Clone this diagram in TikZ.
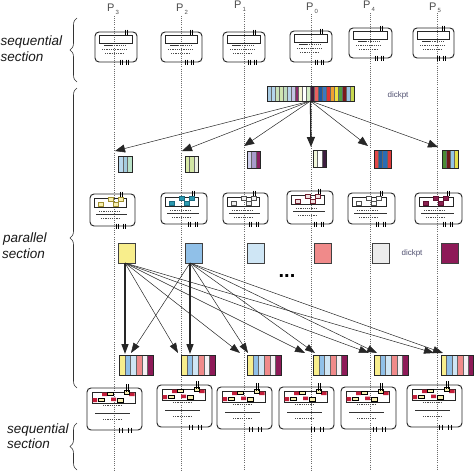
\documentclass[tikz,border=0pt]{standalone}
\usepackage{fontspec}
\setmainfont{Liberation Sans}
\usetikzlibrary{arrows.meta,decorations.pathreplacing,calc}

\definecolor{yel}{HTML}{F8EE8C}
\definecolor{blu}{HTML}{90C0E8}
\definecolor{lbl}{HTML}{CFE6F5}
\definecolor{pnk}{HTML}{F08A8A}
\definecolor{lgr}{HTML}{ECECEC}
\definecolor{pur}{HTML}{8E1A58}
\definecolor{redsqc}{HTML}{C41E3A}
\definecolor{yelsqc}{HTML}{F6EEB0}
\definecolor{notec}{HTML}{505070}

\tikzset{
  colline/.style={draw=gray!85!black, line width=0.55pt, dash pattern=on 0.8pt off 1.3pt},
  procbox/.style={draw=black!85, line width=0.95pt, rounded corners=4pt, anchor=north west, inner sep=0pt, outer sep=0pt},
  inrect/.style={draw=black!85, line width=0.8pt},
  dline/.style={draw=black!70, line width=0.5pt, dash pattern=on 1.2pt off 1pt},
  sline/.style={draw=black!80, line width=0.6pt},
  tickmark/.style={draw=black, line width=0.7pt},
  strip/.style={draw=black!60, line width=0.3pt},
  barframe/.style={draw=black!85, line width=0.6pt},
  sqbox/.style={draw=black!75, line width=0.6pt, anchor=north west, inner sep=0pt, outer sep=0pt, minimum width=17pt, minimum height=20pt},
  arr/.style={draw=black!85, line width=0.5pt, -{Triangle[length=10pt,width=8pt]}},
  arrthick/.style={arr, line width=1.3pt},
  barr/.style={draw=black!85, line width=0.5pt, -{Triangle[length=10pt,width=7pt]}},
  barrthick/.style={barr, line width=1.3pt},
  seclabel/.style={font=\fontsize{13.5}{16}\selectfont\itshape, text=black!90, anchor=base west, inner sep=0pt},
  plabel/.style={font=\fontsize{11}{12}\selectfont, text=black!70, anchor=base west, inner sep=0pt},
  notelabel/.style={font=\fontsize{8}{9}\selectfont, text=notec, inner sep=0pt},
  bracestyle/.style={draw=black!80, line width=0.6pt, decorate, decoration={brace, amplitude=7pt}},
  redsq/.style={fill=redsqc},
  yelsq/.style={fill=yelsqc, draw=black, line width=0.5pt},
}

\newcommand{\Psub}[1]{\hspace{1pt}\raisebox{-2.5pt}{\fontsize{6}{6}\selectfont #1}}

\newcommand{\TopBox}[5]{%
\begin{scope}[shift={(#1,#2)}]
\node[procbox, minimum width=#3pt, minimum height=#4pt] (#5) at (0,0) {};
\draw[inrect] (4,3) rectangle ({#3-5},11);
\draw[sline] (9,13.5) -- (17,13.5);
\draw[dline] (17,13.5) -- (31,13.5);
\draw[dline] (7,17.5) -- (33,17.5);
\draw[dline] (10,21.5) -- (29,21.5);
\draw[tickmark] ({#3-12},-2.5) -- ++(0,5) ({#3-10},-2.5) -- ++(0,5);
\draw[tickmark] ({#3-17},{#4-2.5}) -- ++(0,5) ({#3-15},{#4-2.5}) -- ++(0,5) ({#3-11},{#4-2.5}) -- ++(0,5) ({#3-9},{#4-2.5}) -- ++(0,5);
\end{scope}}

\newcommand{\MidBox}[7]{%
\begin{scope}[shift={(#1,#2)}]
\node[procbox, minimum width=#3pt, minimum height=#4pt] (#5) at (0,0) {};
\draw[inrect] (4,4) rectangle ({#3-9},13);
\filldraw[fill=#6, draw=#7, line width=0.5pt] (18,3.5) rectangle (23,7) (28,3.5) rectangle (33,7) (8,8) rectangle (13.5,12) (23,8) rectangle (28.5,12);
\draw[dline] (9,17) -- (31,17);
\draw[sline] (6,20.5) -- ({#3-8},20.5);
\draw[dline] (11,24.5) -- (30,24.5);
\draw[tickmark] ({#3-15},-2.5) -- ++(0,5) ({#3-13},-2.5) -- ++(0,5);
\draw[tickmark] ({#3-19},{#4-2.5}) -- ++(0,5) ({#3-17},{#4-2.5}) -- ++(0,5) ({#3-12},{#4-2.5}) -- ++(0,5) ({#3-10},{#4-2.5}) -- ++(0,5);
\end{scope}}

\newcommand{\BotBox}[3]{%
\begin{scope}[shift={(#1,#2)}]
\node[procbox, minimum width=55pt, minimum height=42pt] (#3) at (0,0) {};
\draw[inrect] (5,4) rectangle (48,15);
\fill[redsq] (15,4.5) rectangle (20,8) (5.5,10) rectangle (10,14) (24,9.5) rectangle (29,13) (42,4.5) rectangle (47.5,8);
\filldraw[yelsq] (20.5,4) rectangle (26,7.5) (11,10) rectangle (17,13.5) (30,10.5) rectangle (36,14) (37,2) rectangle (42,6.5);
\draw[dline] (16,17.5) -- (35,17.5);
\draw[sline] (8,25) -- (43,25);
\draw[dline] (16,31) -- (35,31);
\draw[tickmark] (39,-4) -- ++(0,8) (41,-4) -- ++(0,8);
\draw[tickmark] (32,39.5) -- ++(0,5) (35,39.5) -- ++(0,5) (41,39.5) -- ++(0,5) (44,39.5) -- ++(0,5);
\end{scope}}

\newcommand{\StripBar}[7]{%
\node[anchor=north west, minimum width=#4pt, minimum height=#5pt, inner sep=0pt, outer sep=0pt] (#1) at (#2,#3) {};
\foreach \stripcol [count=\i from 0] in {#7} {
  \filldraw[fill=\stripcol, strip] ({#2+\i*#4/#6},#3) rectangle ({#2+(\i+1)*#4/#6},{#3+#5});
}
\draw[barframe] (#1.north west) rectangle (#1.south east);
}

\begin{document}
\begin{tikzpicture}[x=1pt,y=-1pt]
\useasboundingbox (0,0) rectangle (474,471);

% column lines
\foreach \n/\x/\t in {3/114/16, 2/181/16, 1/244/13, 0/311/14, 4/370/13, 5/437/13} {
  \coordinate (c\n t) at (\x,\t);
  \coordinate (c\n b) at (\x,471);
  \draw[colline] (c\n t) -- (c\n b);
}

% process labels
\node[plabel] (p3) at (107,12) {P\Psub{3}};
\node[plabel] (p2) at (176,12) {P\Psub{2}};
\node[plabel] (p1) at (234,9) {P\Psub{1}};
\node[plabel] (p0) at (306,10.5) {P\Psub{0}};
\node[plabel] (p4) at (363,9) {P\Psub{4}};
\node[plabel] (p5) at (429,10) {P\Psub{5}};

% top sequential boxes
\TopBox{95}{32}{42}{30}{t3}
\TopBox{161}{32}{41}{30}{t2}
\TopBox{223}{32}{42}{30}{t1}
\TopBox{290}{31}{42}{31}{t0}
\TopBox{349}{28}{43}{30}{t4}
\TopBox{413}{28}{41}{30}{t5}

% big checkpoint bar
\StripBar{bar}{267}{86}{87}{15}{22}{
  {rgb,255:red,168;green,204;blue,228},
  {rgb,255:red,180;green,212;blue,236},
  {rgb,255:red,200;green,224;blue,184},
  {rgb,255:red,208;green,228;blue,176},
  {rgb,255:red,192;green,220;blue,192},
  {rgb,255:red,184;green,212;blue,236},
  {rgb,255:red,196;green,196;blue,228},
  {rgb,255:red,140;green,42;blue,106},
  {rgb,255:red,244;green,244;blue,208},
  white,
  {rgb,255:red,212;green,236;blue,196},
  {rgb,255:red,58;green,26;blue,58},
  {rgb,255:red,232;green,96;blue,96},
  {rgb,255:red,30;green,90;blue,160},
  {rgb,255:red,58;green,120;blue,192},
  {rgb,255:red,224;green,52;blue,52},
  {rgb,255:red,240;green,160;blue,48},
  {rgb,255:red,240;green,224;blue,64},
  {rgb,255:red,80;green,160;blue,64},
  {rgb,255:red,122;green,26;blue,26},
  {rgb,255:red,152;green,196;blue,228},
  {rgb,255:red,200;green,216;blue,80}}
\node[notelabel] (note1) at (398,95) {dickpt};

% small per-process pieces
\StripBar{s3}{118}{156}{14}{16}{3}{{rgb,255:red,185;green,217;blue,238},{rgb,255:red,164;green,205;blue,224},{rgb,255:red,185;green,226;blue,201}}
\StripBar{s2}{185}{156}{13}{16}{3}{{rgb,255:red,217;green,234;blue,168},{rgb,255:red,210;green,230;blue,164},{rgb,255:red,238;green,242;blue,228}}
\StripBar{s1}{247}{151}{13}{17}{3}{{rgb,255:red,208;green,208;blue,238},{rgb,255:red,168;green,156;blue,204},{rgb,255:red,138;green,32;blue,96}}
\StripBar{s0}{313}{150}{13}{17}{3}{{rgb,255:red,242;green,248;blue,220},white,{rgb,255:red,62;green,30;blue,64}}
\StripBar{s4}{374}{150}{17}{18}{4}{{rgb,255:red,226;green,72;blue,72},{rgb,255:red,31;green,92;blue,158},{rgb,255:red,42;green,108;blue,180},{rgb,255:red,224;green,58;blue,58}}
\StripBar{s5}{442}{150}{16}{18}{4}{{rgb,255:red,74;green,140;blue,52},{rgb,255:red,110;green,26;blue,26},{rgb,255:red,148;green,196;blue,230},{rgb,255:red,230;green,224;blue,72}}

% scatter arrows
\foreach \n/\x/\y in {3/115/151, 2/182/151, 1/244/146, 4/368/146, 5/438/147} {
  \coordinate (a\n) at (\x,\y);
  \draw[arr] (bar.south) -- (a\n);
}
\coordinate (a0) at (311,147);
\draw[arrthick] (bar.south) -- (a0);

% parallel boxes
\MidBox{90}{194}{45}{32}{m3}{{rgb,255:red,248;green,240;blue,176}}{{rgb,255:red,160;green,144;blue,48}}
\MidBox{161}{193}{46}{31}{m2}{{rgb,255:red,42;green,154;blue,176}}{{rgb,255:red,26;green,106;blue,128}}
\MidBox{223}{193}{45}{31}{m1}{{rgb,255:red,240;green,240;blue,240}}{{rgb,255:red,80;green,80;blue,80}}
\MidBox{287}{191}{46}{33}{m0}{{rgb,255:red,240;green,224;blue,224}}{{rgb,255:red,112;green,32;blue,48}}
\MidBox{348}{193}{47}{31}{m4}{white}{{rgb,255:red,80;green,80;blue,80}}
\MidBox{415}{193}{47}{31}{m5}{{rgb,255:red,138;green,32;blue,80}}{{rgb,255:red,96;green,16;blue,48}}

% per-process data squares
\node[sqbox, fill=yel] (sq3) at (118,243) {};
\node[sqbox, fill=blu] (sq2) at (185,243) {};
\node[sqbox, fill=lbl] (sq1) at (247,243) {};
\node[sqbox, fill=pnk] (sq0) at (314,243) {};
\node[sqbox, fill=lgr] (sq4) at (372,243) {};
\node[sqbox, fill=pur] (sq5) at (441,243) {};
\node[notelabel] (note2) at (412,253) {dickpt};
\node[font=\fontsize{20}{20}\selectfont\bfseries, inner sep=0pt] (dots) at (287,276) {...};

% gathered bars
\foreach \n/\x in {3/119, 2/181, 1/247, 0/313, 4/374} {
  \StripBar{b\n}{\x}{355}{34}{20}{6}{yel,blu,lbl,pnk,{rgb,255:red,246;green,240;blue,244},pur}
}
\StripBar{b5}{441}{355}{32.5}{20}{6}{yel,blu,lbl,pnk,{rgb,255:red,246;green,240;blue,244},pur}

% gather arrows
\coordinate (ys) at ([xshift=-1.5pt]sq3.south);
\coordinate (bs) at ([xshift=-3.5pt]sq2.south);
\coordinate (y3) at (125,354);
\draw[barrthick] (ys) -- (y3);
\foreach \n/\x in {2/178, 1/240, 0/305, 4/369, 5/434} {
  \coordinate (y\n) at (\x,353);
  \draw[barr] (ys) -- (y\n);
}
\coordinate (z2) at (190,354);
\draw[barrthick] (bs) -- (z2);
\foreach \n/\x in {3/131, 1/248, 0/315, 4/377, 5/443} {
  \coordinate (z\n) at (\x,353);
  \draw[barr] (bs) -- (z\n);
}

% final sequential boxes
\BotBox{87}{388}{f3}
\BotBox{157}{385}{f2}
\BotBox{217}{387}{f1}
\BotBox{279}{387}{f0}
\BotBox{341}{387}{f4}
\BotBox{407}{385}{f5}

% braces and section labels
\coordinate (br1s) at (77,82); \coordinate (br1e) at (77,18);
\draw[bracestyle] (br1s) -- (br1e);
\coordinate (br2s) at (77,388); \coordinate (br2e) at (77,88);
\draw[bracestyle] (br2s) -- (br2e);
\coordinate (br3s) at (77,470); \coordinate (br3e) at (77,423);
\draw[bracestyle] (br3s) -- (br3e);

\node[seclabel] (l1a) at (0.5,45) {sequential};
\node[seclabel] (l1b) at (0.5,61) {section};
\node[seclabel] (l2a) at (3,242) {parallel};
\node[seclabel] (l2b) at (2,258) {section};
\node[seclabel] (l3a) at (7,433) {sequential};
\node[seclabel] (l3b) at (7,448) {section};
\end{tikzpicture}
\end{document}
